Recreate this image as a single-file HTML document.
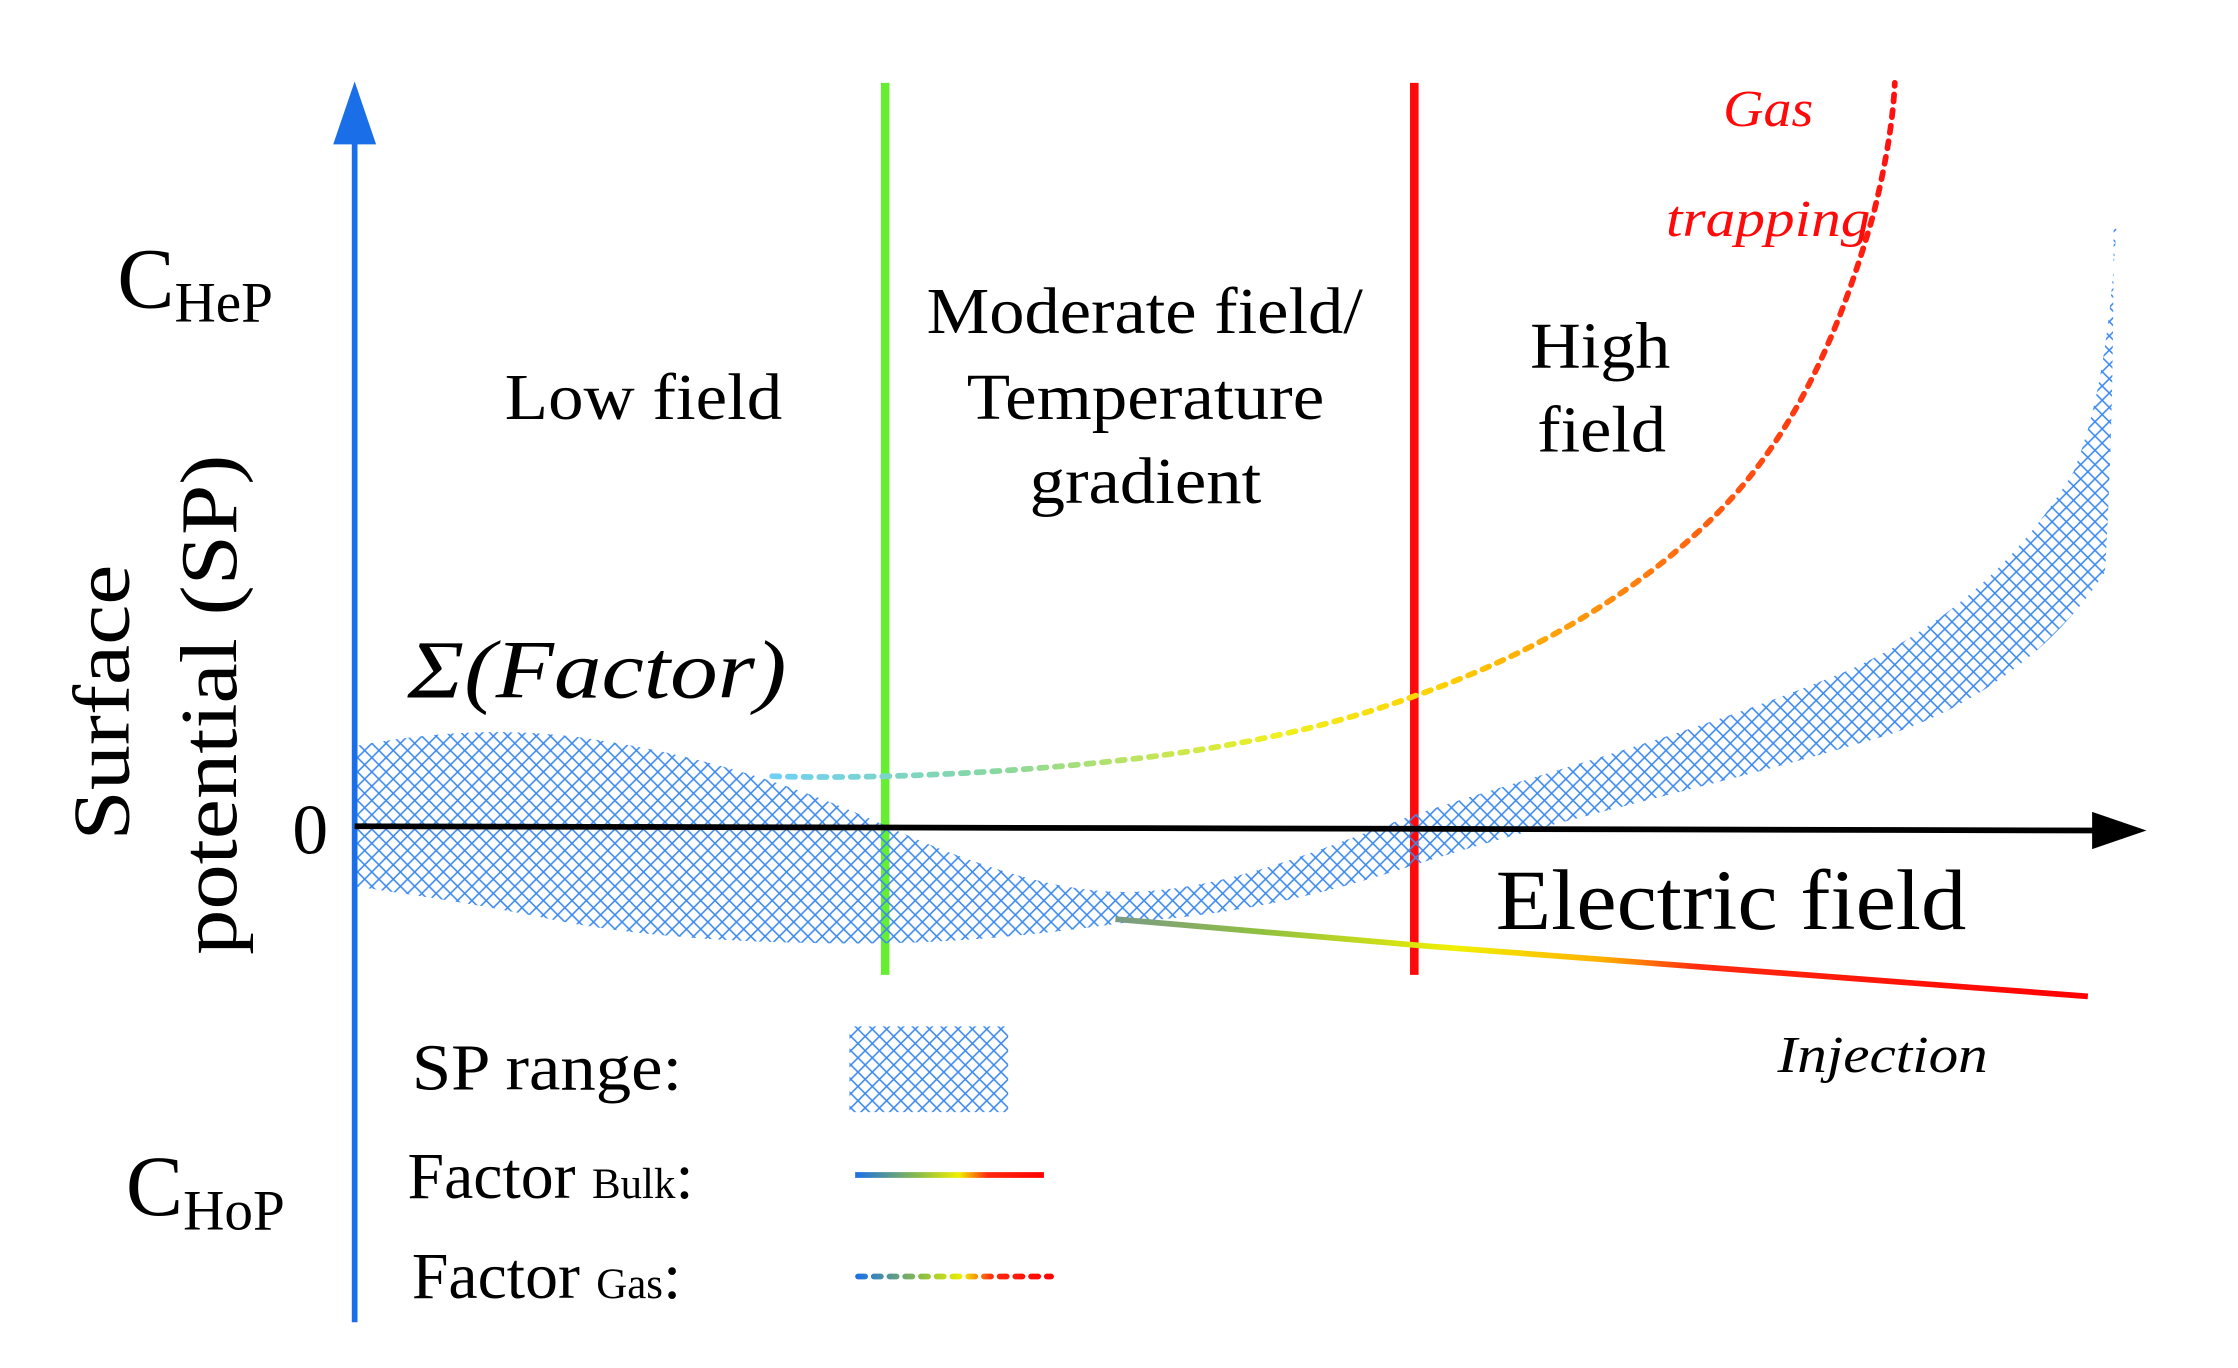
<!DOCTYPE html>
<html><head><meta charset="utf-8"><style>
html,body{margin:0;padding:0;background:#fff;width:2238px;height:1368px;overflow:hidden}
svg{display:block}
text{font-family:"Liberation Serif","Times New Roman",serif;fill:#000}
</style></head><body>
<svg width="2238" height="1368" viewBox="0 0 1565 957" preserveAspectRatio="none" xmlns="http://www.w3.org/2000/svg">
<defs>
<pattern id="hatch" width="10" height="10" patternUnits="userSpaceOnUse">
<path d="M0,0 L10,10 M10,0 L0,10" stroke="#3d8af0" stroke-width="1.1"/>
</pattern>
<linearGradient id="gas" x1="540" y1="0" x2="1325" y2="0" gradientUnits="userSpaceOnUse">
<stop offset="0" stop-color="#6fd0f5"/><stop offset="0.2" stop-color="#88d8a0"/>
<stop offset="0.45" stop-color="#f0f020"/><stop offset="0.6" stop-color="#ffd000"/>
<stop offset="0.78" stop-color="#ff7a10"/><stop offset="1" stop-color="#ff1010"/>
</linearGradient>
<linearGradient id="bulk" x1="780" y1="0" x2="1460" y2="0" gradientUnits="userSpaceOnUse">
<stop offset="0" stop-color="#7a9a88"/><stop offset="0.15" stop-color="#90c040"/>
<stop offset="0.35" stop-color="#f0f000"/><stop offset="0.5" stop-color="#ffb000"/>
<stop offset="0.6" stop-color="#ff2a10"/><stop offset="1" stop-color="#ff0000"/>
</linearGradient>
<linearGradient id="lb" x1="598" y1="0" x2="730" y2="0" gradientUnits="userSpaceOnUse">
<stop offset="0" stop-color="#1a6fe8"/><stop offset="0.35" stop-color="#90c040"/>
<stop offset="0.55" stop-color="#f0f000"/><stop offset="0.7" stop-color="#ff2a10"/><stop offset="1" stop-color="#ff0000"/>
</linearGradient>
<linearGradient id="lg" x1="598" y1="0" x2="735" y2="0" gradientUnits="userSpaceOnUse">
<stop offset="0" stop-color="#1a6fe8"/><stop offset="0.35" stop-color="#90c040"/>
<stop offset="0.55" stop-color="#f0f000"/><stop offset="0.7" stop-color="#ff2a10"/><stop offset="1" stop-color="#ff0000"/>
</linearGradient>
</defs>

<line x1="619" y1="58" x2="619" y2="682" stroke="#66ee33" stroke-width="6"/>
<line x1="989" y1="58" x2="989" y2="682" stroke="#ff0a0a" stroke-width="6"/>

<path fill="url(#hatch)" d="M248,522 C300,512 360,508 420,518 C500,530 570,555 620,578 C680,605 740,625 790,624 C860,622 920,595 989,570 C1080,540 1180,515 1290,470 C1370,435 1420,380 1450,330 C1470,280 1476,220 1480,160 L1478,160 C1478,260 1476,330 1472,400 C1440,450 1380,500 1300,520 C1200,550 1100,570 989,605 C920,628 860,640 790,645 C720,655 660,660 600,660 C520,660 440,655 380,642 C320,630 280,625 248,620 Z"/>

<path d="M540,543 C600,545 700,542 800,530 C880,520 940,505 989,487 C1080,455 1150,410 1200,360 C1260,300 1290,220 1310,150 C1320,110 1324,80 1325,58" fill="none" stroke="url(#gas)" stroke-width="4" stroke-dasharray="5 6" stroke-linecap="round"/>

<path d="M780,643 L1000,662 L1460,697" fill="none" stroke="url(#bulk)" stroke-width="4"/>

<line x1="248" y1="95" x2="248" y2="925" stroke="#1a6fe8" stroke-width="4"/>
<polygon points="233,101 263,101 248,57" fill="#1a6fe8"/>
<line x1="248" y1="578" x2="1470" y2="581" stroke="#000" stroke-width="4"/>
<polygon points="1463,568 1463,594 1501,581" fill="#000"/>

<text x="82" y="215" font-size="60">C<tspan font-size="40" dy="10">HeP</tspan></text>
<text x="88" y="850" font-size="60">C<tspan font-size="40" dy="10">HoP</tspan></text>
<text x="217" y="597" font-size="50" text-anchor="middle">0</text>
<text transform="translate(90,588) rotate(-90)" font-size="56" textLength="193" lengthAdjust="spacingAndGlyphs">Surface</text>
<text transform="translate(165,668) rotate(-90)" font-size="56" textLength="350" lengthAdjust="spacingAndGlyphs">potential (SP)</text>
<text x="353" y="293" font-size="46" textLength="194" lengthAdjust="spacingAndGlyphs">Low field</text>
<text x="648" y="233" font-size="46" textLength="305" lengthAdjust="spacingAndGlyphs">Moderate field/</text>
<text x="676" y="293" font-size="46" textLength="250" lengthAdjust="spacingAndGlyphs">Temperature</text>
<text x="720" y="352" font-size="46" textLength="162" lengthAdjust="spacingAndGlyphs">gradient</text>
<text x="1070" y="257" font-size="46" textLength="98" lengthAdjust="spacingAndGlyphs">High</text>
<text x="1075" y="316" font-size="46" textLength="90" lengthAdjust="spacingAndGlyphs">field</text>
<text x="1205" y="88" font-size="36" font-style="italic" style="fill:#ff0a0a" textLength="63" lengthAdjust="spacingAndGlyphs">Gas</text>
<text x="1165" y="165" font-size="36" font-style="italic" style="fill:#ff0a0a" textLength="143" lengthAdjust="spacingAndGlyphs">trapping</text>
<text x="285" y="488" font-size="58" font-style="italic" textLength="265" lengthAdjust="spacingAndGlyphs">Σ(Factor)</text>
<text x="1046" y="650" font-size="60" textLength="329" lengthAdjust="spacingAndGlyphs">Electric field</text>
<text x="1243" y="750" font-size="36" font-style="italic" textLength="147" lengthAdjust="spacingAndGlyphs">Injection</text>

<text x="288" y="762" font-size="46" textLength="189" lengthAdjust="spacingAndGlyphs">SP range:</text>
<rect x="594" y="718" width="111" height="60" fill="url(#hatch)"/>
<text x="285" y="838" font-size="46">Factor <tspan font-size="30">Bulk</tspan>:</text>
<line x1="598" y1="822" x2="730" y2="822" stroke="url(#lb)" stroke-width="4"/>
<text x="288" y="908" font-size="46">Factor <tspan font-size="30">Gas</tspan>:</text>
<line x1="600" y1="893" x2="735" y2="893" stroke="url(#lg)" stroke-width="4" stroke-dasharray="5 6" stroke-linecap="round"/>
</svg>
</body></html>
